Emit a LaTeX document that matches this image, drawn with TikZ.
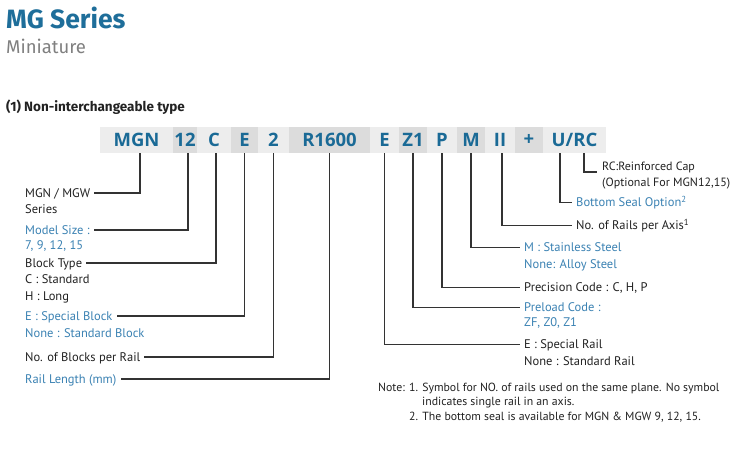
\documentclass[tikz,border=0pt]{standalone}
\usepackage{fontspec}
\setmainfont{PT Sans}
\newfontfamily\codefont{Open Sans}
\newfontfamily\titlefont{Fira Sans}
\definecolor{titleblue}{HTML}{1E6E9A}
\definecolor{codeblue}{HTML}{1A6A96}
\definecolor{labelblue}{HTML}{3B82B3}
\definecolor{txt}{HTML}{222222}
\definecolor{subgray}{HTML}{808080}
\definecolor{barlight}{HTML}{EDEDED}
\definecolor{bardark}{HTML}{DCDCDC}
\definecolor{linecol}{HTML}{333333}
\tikzset{
  cell/.style={minimum height=26pt, inner sep=0pt, text=codeblue,
    font=\codefont\bfseries\fontsize{18.5}{18.5}\selectfont},
  lab/.style={anchor=west, inner xsep=4pt, inner ysep=0pt, text height=8.6pt,
    text depth=0pt, text=txt, font=\fontsize{12.5}{12.5}\selectfont},
  blab/.style={lab, text=labelblue},
  note/.style={anchor=west, inner sep=0pt, text height=8pt, text depth=0pt,
    text=txt, font=\fontsize{11.8}{11.8}\selectfont},
  conn/.style={draw=linecol, line width=1.1pt}
}
\begin{document}
\begin{tikzpicture}[x=1pt,y=-1pt]
\useasboundingbox[fill=white] (0,0) rectangle (735,461);
% titles
\node[anchor=west, inner sep=0pt, text=titleblue, font=\titlefont\bfseries\fontsize{26.5}{26.5}\selectfont] (title) at (6,18) {MG Series};
\node[anchor=west, inner sep=0pt, text=subgray, font=\titlefont\fontsize{18.5}{18.5}\selectfont] (sub) at (6,46) {Miniature};
\node[anchor=west, inner sep=0pt, text=txt, font=\titlefont\bfseries\fontsize{13.5}{13.5}\selectfont] (type) at (6,107) {(1) Non-interchangeable type};
% code bar
\node[cell, fill=barlight, minimum width=73pt] (b1) at (136.5,140) {MGN};
\node[cell, fill=bardark,  minimum width=24pt] (b2) at (185,140) {12};
\node[cell, fill=barlight, minimum width=34pt] (b3) at (214,140) {C};
\node[cell, fill=bardark,  minimum width=27pt] (b4) at (244.5,140) {E};
\node[cell, fill=barlight, minimum width=31pt] (b5) at (273.5,140) {2};
\node[cell, fill=bardark,  minimum width=81pt] (b6) at (329.5,140) {R1600};
\node[cell, fill=barlight, minimum width=29pt] (b7) at (384.5,140) {E};
\node[cell, fill=bardark,  minimum width=28pt] (b8) at (413,140) {Z1};
\node[cell, fill=barlight, minimum width=30pt] (b9) at (442,140) {P};
\node[cell, fill=bardark,  minimum width=28pt] (b10) at (471,140) {M};
\node[cell, fill=barlight, minimum width=30pt] (b11) at (500,140) {II};
\node[cell, fill=bardark,  minimum width=28pt] (b12) at (529,140) {+};
\node[cell, fill=barlight, minimum width=63pt] (b13) at (574.5,140) {U/RC};
% left labels
\node[lab] (l1) at (21,193) {MGN / MGW};
\node[lab] (l1b) at (21,209.5) {Series};
\node[blab] (l2) at (21,230) {Model Size :};
\node[blab] (l2b) at (21,245) {7, 9, 12, 15};
\node[lab] (l3) at (21,263) {Block Type};
\node[lab] (l3b) at (21,279) {C : Standard};
\node[lab] (l3c) at (21,296) {H : Long};
\node[blab] (l4) at (21,316) {E : Special Block};
\node[blab] (l4b) at (21,333) {None : Standard Block};
\node[lab] (l5) at (21,357) {No. of Blocks per Rail};
\node[blab] (l6) at (21,379) {Rail Length (mm)};
% right labels
\node[lab, inner xsep=0pt, font=\fontsize{12}{12}\selectfont] (r1) at (602,166.5) {RC:Reinforced Cap};
\node[lab, inner xsep=0pt, font=\fontsize{12}{12}\selectfont] (r1b) at (602,182) {(Optional For MGN12,15)};
\coordinate (rcend) at (597,172);
\node[blab] (r2) at (572,202.5) {Bottom Seal Option\textsuperscript{2}};
\node[lab] (r3) at (572,225.5) {No. of Rails per Axis\textsuperscript{1}};
\node[blab] (r4) at (520,247.5) {M : Stainless Steel};
\node[blab] (r4b) at (520,264) {None: Alloy Steel};
\node[lab] (r5) at (520,287.5) {Precision Code : C, H, P};
\node[blab] (r6) at (520,307.5) {Preload Code :};
\node[blab] (r6b) at (520,322.5) {ZF, Z0, Z1};
\node[lab] (r7) at (520,344.5) {E : Special Rail};
\node[lab] (r7b) at (520,361.5) {None : Standard Rail};
% notes
\node[note] (n1) at (378,387.5) {Note: 1. Symbol for NO. of rails used on the same plane. No symbol};
\node[note] (n2) at (422,401) {indicates single rail in an axis.};
\node[note] (n3) at (409,416) {2. The bottom seal is available for MGN \& MGW 9, 12, 15.};
% connectors
\draw[conn] ([xshift=3.5pt]b1.south) |- (l1.east);
\draw[conn] ([xshift=3pt]b2.south) |- (l2.east);
\draw[conn] ([xshift=2pt]b3.south) |- (l3.east);
\draw[conn] (b4.south) |- (l4.east);
\draw[conn] (b5.south) |- (l5.east);
\draw[conn] (b6.south) |- (l6.east);
\draw[conn] (b7.south) |- (r7.west);
\draw[conn] (b8.south) |- (r6.west);
\draw[conn] (b9.south) |- (r5.west);
\draw[conn] (b10.south) |- (r4.west);
\draw[conn] ([xshift=2pt]b11.south) |- (r3.west);
\draw[conn] ([xshift=-14.5pt]b13.south) |- (r2.west);
\draw[conn] ([xshift=9.5pt]b13.south) |- (rcend);
\end{tikzpicture}
\end{document}
